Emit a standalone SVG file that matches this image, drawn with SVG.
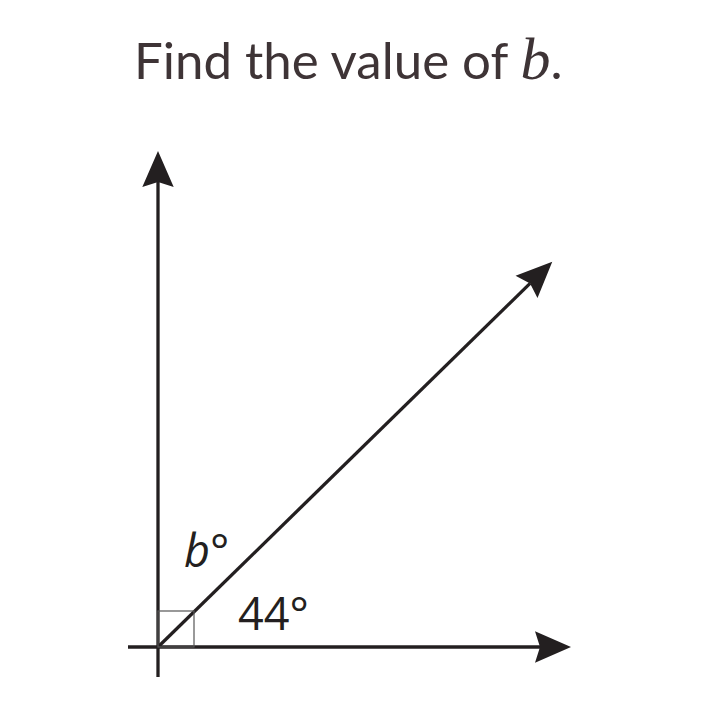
<svg xmlns="http://www.w3.org/2000/svg" width="706" height="714" viewBox="0 0 706 714">
<style>
.title{font-family:Lato,"Open Sans",sans-serif;font-size:51px;fill:#3e3436}
.var{font-family:"Liberation Serif",serif;font-style:italic;font-size:60px}
.lbl{font-family:"Open Sans","Liberation Sans",sans-serif;font-size:45px;fill:#231f20}
.ray{stroke:#231f20;stroke-width:3.3;fill:none}
</style>
<defs>
<marker id="ah" markerUnits="userSpaceOnUse" markerWidth="60" markerHeight="40" viewBox="-10 -20 50 40" refX="0" refY="0" orient="auto" overflow="visible">
<path d="M31,0 L-5,-15.7 L0,0 L-5,15.7 Z" fill="#231f20"/>
</marker>
</defs>
<rect width="706" height="714" fill="#ffffff"/>
<text id="title" class="title" x="134" y="79">Find the value of <tspan class="var">b</tspan>.</text>
<g id="connectors">
<line class="ray" x1="158" y1="677" x2="158" y2="182" marker-end="url(#ah)"/>
<line class="ray" x1="128" y1="647" x2="540" y2="647" marker-end="url(#ah)"/>
<line class="ray" x1="158" y1="647" x2="530.1" y2="283.4" marker-end="url(#ah)"/>
</g>
<g id="right-angle">
<rect x="158" y="611" width="36" height="36" fill="none" stroke="#555" stroke-width="1.2"/>
</g>
<g id="label-b">
<text class="lbl" x="184" y="567" font-style="italic">b°</text>
</g>
<g id="label-44">
<text class="lbl" x="238" y="630">44°</text>
</g>
</svg>
